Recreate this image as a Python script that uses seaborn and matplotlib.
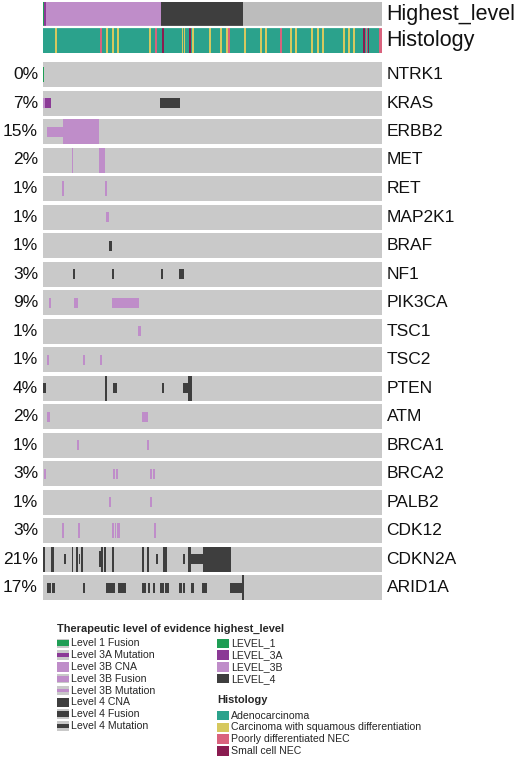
import numpy as np
import pandas as pd
import matplotlib
matplotlib.use('Agg')
import matplotlib.pyplot as plt
from matplotlib.colors import ListedColormap
from matplotlib.patches import Rectangle
import seaborn as sns

sns.set_style('white')
plt.rcParams['font.family'] = ['Liberation Sans', 'DejaVu Sans']

N_SAMPLES = 338

genes = ['NTRK1', 'KRAS', 'ERBB2', 'MET', 'RET', 'MAP2K1', 'BRAF', 'NF1', 'PIK3CA',
         'TSC1', 'TSC2', 'PTEN', 'ATM', 'BRCA1', 'BRCA2', 'PALB2', 'CDK12', 'CDKN2A', 'ARID1A']
pct_labels = ['0%', '7%', '15%', '2%', '1%', '1%', '1%', '3%', '9%',
              '1%', '1%', '4%', '2%', '1%', '3%', '1%', '3%', '21%', '17%']

# highest level of evidence per sample, as runs (start, stop, level); rest = none
highest_runs = [(0, 1, 'LEVEL_1'), (1, 3, 'LEVEL_3A'), (3, 118, 'LEVEL_3B'), (118, 200, 'LEVEL_4')]

# histology: every sample is Adenocarcinoma except these
squamous_samples = [12, 13, 63, 64, 69, 70, 74, 75, 106, 107, 139, 141, 149, 150, 166, 167,
                    177, 178, 183, 184, 201, 202, 217, 218, 222, 223, 247, 248, 252, 253,
                    268, 269, 274, 275, 279, 280, 300, 301, 305, 306, 310, 311]
poorly_nec_samples = [57, 58, 112, 113, 185, 186, 237, 238, 323, 336, 337]
small_cell_samples = [119, 120, 146, 147, 320, 321, 325]

# alterations per gene: (first sample, stop sample, kind)
alt_ntrk1 = [(0, 1, 'Level 1 Fusion')]
alt_kras = [(0, 2, 'Level 3B Mutation'), (2, 8, 'Level 3A Mutation'), (117, 137, 'Level 4 Mutation')]
alt_erbb2 = [(4, 20, 'Level 3B Mutation'), (20, 56, 'Level 3B CNA')]
alt_met = [(29, 30, 'Level 3B CNA'), (56, 62, 'Level 3B CNA')]
alt_ret = [(19, 21, 'Level 3B Fusion'), (62, 64, 'Level 3B Fusion')]
alt_map2k1 = [(63, 66, 'Level 3B Mutation')]
alt_braf = [(66, 69, 'Level 4 Mutation')]
alt_nf1 = [(30, 32, 'Level 4 Mutation'), (69, 71, 'Level 4 Mutation'),
           (118, 120, 'Level 4 Mutation'), (136, 141, 'Level 4 Mutation')]
alt_pik3ca = [(6, 8, 'Level 3B Mutation'), (31, 35, 'Level 3B Mutation'), (69, 96, 'Level 3B Mutation')]
alt_tsc1 = [(95, 98, 'Level 3B Mutation')]
alt_tsc2 = [(4, 6, 'Level 3B Mutation'), (40, 42, 'Level 3B Mutation'), (57, 59, 'Level 3B Mutation')]
alt_pten = [(0, 3, 'Level 4 Mutation'), (62, 64, 'Level 4 CNA'), (70, 74, 'Level 4 Mutation'),
            (119, 121, 'Level 4 Mutation'), (140, 145, 'Level 4 Mutation'), (145, 149, 'Level 4 CNA')]
alt_atm = [(4, 7, 'Level 3B Mutation'), (99, 105, 'Level 3B Mutation')]
alt_brca1 = [(34, 36, 'Level 3B Mutation'), (104, 106, 'Level 3B Mutation')]
alt_brca2 = [(1, 3, 'Level 3B Mutation'), (70, 72, 'Level 3B Mutation'), (73, 75, 'Level 3B Mutation'),
             (107, 109, 'Level 3B Mutation'), (110, 112, 'Level 3B Mutation')]
alt_palb2 = [(66, 68, 'Level 3B Mutation'), (107, 109, 'Level 3B Mutation')]
alt_cdk12 = [(19, 21, 'Level 3B Fusion'), (35, 37, 'Level 3B Fusion'), (69, 71, 'Level 3B Fusion'),
             (72, 73, 'Level 3B Fusion'), (74, 77, 'Level 3B Fusion'), (111, 113, 'Level 3B Fusion')]
alt_cdkn2a = [(0, 2, 'Level 4 CNA'), (8, 11, 'Level 4 CNA'), (21, 23, 'Level 4 Mutation'),
              (29, 30, 'Level 4 CNA'), (33, 35, 'Level 4 CNA'), (36, 37, 'Level 4 Mutation'),
              (38, 40, 'Level 4 CNA'), (56, 58, 'Level 4 Fusion'), (58, 60, 'Level 4 CNA'),
              (61, 63, 'Level 4 CNA'), (69, 71, 'Level 4 CNA'), (99, 101, 'Level 4 CNA'),
              (104, 106, 'Level 4 CNA'), (113, 115, 'Level 4 Mutation'), (120, 124, 'Level 4 CNA'),
              (140, 142, 'Level 4 Mutation'), (145, 148, 'Level 4 CNA'), (148, 160, 'Level 4 Mutation'),
              (160, 188, 'Level 4 CNA')]
alt_arid1a = [(4, 6, 'Level 4 Mutation'), (6, 8, 'Level 4 Mutation'), (9, 12, 'Level 4 Mutation'),
              (40, 42, 'Level 4 Mutation'), (63, 72, 'Level 4 Mutation'), (75, 83, 'Level 4 Mutation'),
              (99, 103, 'Level 4 Mutation'), (105, 107, 'Level 4 Mutation'), (110, 112, 'Level 4 Mutation'),
              (117, 121, 'Level 4 Mutation'), (122, 126, 'Level 4 Mutation'), (136, 139, 'Level 4 Mutation'),
              (140, 142, 'Level 4 Mutation'), (148, 151, 'Level 4 Mutation'), (159, 164, 'Level 4 Mutation'),
              (187, 199, 'Level 4 Mutation'), (199, 201, 'Level 4 CNA')]

alterations = [alt_ntrk1, alt_kras, alt_erbb2, alt_met, alt_ret, alt_map2k1, alt_braf, alt_nf1,
               alt_pik3ca, alt_tsc1, alt_tsc2, alt_pten, alt_atm, alt_brca1, alt_brca2, alt_palb2,
               alt_cdk12, alt_cdkn2a, alt_arid1a]

# colours
level_colors = {'LEVEL_1': '#1f9e55', 'LEVEL_3A': '#8b3a96', 'LEVEL_3B': '#bf8dc9', 'LEVEL_4': '#3e3e3e'}
histology_colors = {'Adenocarcinoma': '#2ba28c',
                    'Carcinoma with squamous differentiation': '#d6c85e',
                    'Poorly differentiated NEC': '#d9627d',
                    'Small cell NEC': '#8a1c50'}
NONE_COLOR = '#bcbcbc'
BG_COLOR = '#c9c9c9'
type_height = {'CNA': 1.0, 'Fusion': 0.62, 'Mutation': 0.4}
kind_level = {'1': 'LEVEL_1', '3A': 'LEVEL_3A', '3B': 'LEVEL_3B', '4': 'LEVEL_4'}
kinds = ['Level 1 Fusion', 'Level 3A Mutation', 'Level 3B CNA', 'Level 3B Fusion',
         'Level 3B Mutation', 'Level 4 CNA', 'Level 4 Fusion', 'Level 4 Mutation']


def kind_style(kind):
    _, lvl, typ = kind.split(' ')
    return level_colors[kind_level[lvl]], type_height[typ]


# ---- annotation tracks as one coded matrix ----
track_keys = ['none'] + list(level_colors) + list(histology_colors)
code = {k: i for i, k in enumerate(track_keys)}
highest = np.full(N_SAMPLES, code['none'])
for s, e, lvl in highest_runs:
    highest[s:e] = code[lvl]
histology = np.full(N_SAMPLES, code['Adenocarcinoma'])
histology[squamous_samples] = code['Carcinoma with squamous differentiation']
histology[poorly_nec_samples] = code['Poorly differentiated NEC']
histology[small_cell_samples] = code['Small cell NEC']
track_df = pd.DataFrame([highest, histology], index=['Highest_level', 'Histology'])
track_cmap = ListedColormap([NONE_COLOR] + list(level_colors.values()) + list(histology_colors.values()))

W, H = 520, 761
fig = plt.figure(figsize=(W / 100, H / 100), dpi=100)
x0, x1 = 43 / W, 381.5 / W

ax_top = fig.add_axes([x0, 1 - 53 / H, x1 - x0, 51 / H])
sns.heatmap(track_df, cmap=track_cmap, vmin=-0.5, vmax=len(track_keys) - 0.5, cbar=False,
            xticklabels=False, yticklabels=False, ax=ax_top)
ax_top.axhline(1, color='white', lw=1.6)
for i, name in enumerate(track_df.index):
    ax_top.text(1 + 5 / 338.5, i + 0.5, name, transform=ax_top.get_yaxis_transform(),
                ha='left', va='center', fontsize=15.5, color='#111111')

# ---- gene rows ----
row_h = 25 / 28.5
ax = fig.add_axes([x0, 1 - 600 / H, x1 - x0, 538 / H])
n = len(genes)
ax.barh(np.arange(n), N_SAMPLES, left=0, height=row_h, color=BG_COLOR, linewidth=0)
for i, alts in enumerate(alterations):
    for s, e, kind in alts:
        col, hf = kind_style(kind)
        xs = np.arange(s, e)
        ax.bar(xs + 0.5, row_h * hf, width=1.0, bottom=i - row_h * hf / 2, color=col, linewidth=0)
ax.set_xlim(0, N_SAMPLES)
ax.set_ylim(n - 1 + row_h / 2, -row_h / 2)
ax.axis('off')
for i, (g, p) in enumerate(zip(genes, pct_labels)):
    ax.text(1 + 5 / 338.5, i, g, transform=ax.get_yaxis_transform(), ha='left', va='center',
            fontsize=12.5, color='#111111')
    ax.text(-5 / 338.5, i, p, transform=ax.get_yaxis_transform(), ha='right', va='center',
            fontsize=12.5, color='#111111')

# ---- legend ----
lg = fig.add_axes([0, 0, 1, 156 / H])
lg.set_xlim(0, W)
lg.set_ylim(H, H - 156)
lg.axis('off')
fs = 7.6
lg.text(57, 628.5, 'Therapeutic level of evidence highest_level', fontsize=7.9, fontweight='bold',
        va='center', ha='left')
step = 11.8
mw, mh = 12, 9.5
for k, kind in enumerate(kinds):
    yc = 643.3 + k * step
    col, hf = kind_style(kind)
    lg.add_patch(Rectangle((57, yc - mh / 2), mw, mh, color=BG_COLOR, lw=0))
    lg.add_patch(Rectangle((57, yc - mh * hf / 2), mw, mh * hf, color=col, lw=0))
    lg.text(71, yc, kind, fontsize=fs, va='center', ha='left')
for k, (lvl, col) in enumerate(level_colors.items()):
    yc = 643.3 + k * step
    lg.add_patch(Rectangle((217, yc - mh / 2), mw, mh, color=col, lw=0))
    lg.text(231, yc, lvl, fontsize=fs, va='center', ha='left')
lg.text(217, 700, 'Histology', fontsize=7.9, fontweight='bold', va='center', ha='left')
for k, (hist, col) in enumerate(histology_colors.items()):
    yc = 715.7 + k * 11.7
    lg.add_patch(Rectangle((217, yc - mh / 2), mw, mh, color=col, lw=0))
    lg.text(231, yc, hist, fontsize=fs, va='center', ha='left')

fig.savefig('out.png', dpi=100)
plt.close(fig)
